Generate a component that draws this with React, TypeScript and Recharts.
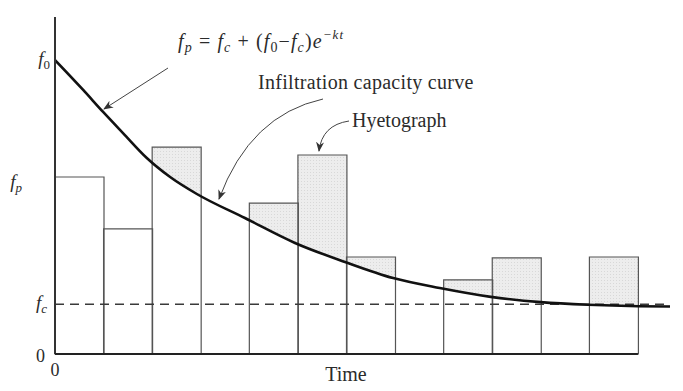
import React from "react";
import {
  Area,
  Bar,
  ComposedChart,
  Label,
  Line,
  ReferenceLine,
  XAxis,
  YAxis,
} from "recharts";

// hyetograph: one bar per time slot (rain intensity, same units as f)
const slots = ["1", "2", "3", "4", "5", "6", "7", "8", "9", "10", "11", "12"];
const rainfall = [6.04, 4.27, 7.06, 0, 5.15, 6.79, 3.31, 0, 2.53, 3.28, 0, 3.31];

// infiltration capacity curve (time in slots)
const curveTime = [0, 0.58, 0.99, 1.4, 1.89, 2.37, 2.92, 3.91, 4.94, 5.97, 6.96, 7.92, 8.97, 10.0, 10.97, 12.0, 12.66];
const curveRate = [10.03, 9.01, 8.26, 7.54, 6.69, 6.04, 5.46, 4.64, 3.79, 3.14, 2.59, 2.25, 1.95, 1.77, 1.68, 1.63, 1.62];

const fc = 1.7;
const yTicks = [0, fc, 5.85, 10.03];
const yTickSub = ["", "c", "p", "0"];

const barRows = slots.map((slot, i) => ({ slot, rain: rainfall[i] }));
const curveRows = curveTime.map((t, i) => ({ t, rate: curveRate[i] }));

const W = 683;
const H = 391;
const font = "'Liberation Serif', 'DejaVu Serif', serif";
const ink = "#2b2b2b";

function YTick(props: any) {
  const { y, payload } = props;
  const i = yTicks.indexOf(payload.value);
  if (i === 0) {
    return (
      <text x={45} y={y + 8} textAnchor="end" fontFamily={font} fontSize={18} fill={ink}>
        0
      </text>
    );
  }
  const right = i === 2 ? 22 : i === 1 ? 47 : 50;
  const subItalic = yTickSub[i] !== "0";
  return (
    <text x={right} y={y + 5} textAnchor="end" fontFamily={font} fontSize={19} fill={ink}>
      <tspan fontStyle="italic">f</tspan>
      <tspan fontSize={13} dy={4} fontStyle={subItalic ? "italic" : "normal"}>
        {yTickSub[i]}
      </tspan>
    </text>
  );
}

function XTick(props: any) {
  const { x } = props;
  return (
    <text x={x} y={376} textAnchor="middle" fontFamily={font} fontSize={18} fill={ink}>
      0
    </text>
  );
}

function TimeLabel() {
  return (
    <text x={346} y={381} textAnchor="middle" fontFamily={font} fontSize={20} fill={ink}>
      Time
    </text>
  );
}

export default function App() {
  return (
    <div style={{ position: "absolute", left: 0, top: 0, width: W, height: H, background: "#fff" }}>
      <ComposedChart
        width={W}
        height={H}
        data={barRows}
        margin={{ top: 17, right: 13, bottom: 0, left: 0 }}
        barCategoryGap={0}
        barGap={0}
      >
        <XAxis xAxisId="bars" dataKey="slot" hide padding={{ left: 0, right: 32 }} />
        <XAxis xAxisId="outline" dataKey="slot" hide padding={{ left: 0, right: 32 }} />
        <XAxis
          xAxisId="t"
          type="number"
          dataKey="t"
          domain={[0, 12.66]}
          allowDataOverflow
          ticks={[0]}
          tick={<XTick />}
          axisLine={false}
          tickLine={false}
          height={37}
        >
          <Label content={<TimeLabel />} />
        </XAxis>
        <YAxis
          domain={[0, 11.5]}
          ticks={yTicks}
          tick={<YTick />}
          axisLine={false}
          tickLine={false}
          width={55}
          interval={0}
        />
        <Bar
          xAxisId="bars"
          dataKey="rain"
          fill="url(#stipple)"
          stroke="none"
          isAnimationActive={false}
          zIndex={100}
        />
        <Area
          xAxisId="t"
          data={curveRows}
          dataKey="rate"
          type="monotone"
          fill="#ffffff"
          fillOpacity={1}
          stroke="none"
          isAnimationActive={false}
          zIndex={200}
        />
        <Bar
          xAxisId="outline"
          dataKey="rain"
          fill="none"
          stroke="#555"
          strokeWidth={1.2}
          isAnimationActive={false}
          zIndex={300}
        />
        <ReferenceLine
          xAxisId="t"
          y={fc}
          stroke="#3a3a3a"
          strokeWidth={1.4}
          strokeDasharray="9 6"
          zIndex={400}
        />
        <Line
          xAxisId="t"
          data={curveRows}
          dataKey="rate"
          type="monotone"
          stroke="#111"
          strokeWidth={2.6}
          dot={false}
          isAnimationActive={false}
          zIndex={500}
        />
        <ReferenceLine xAxisId="t" x={0} stroke="#333" strokeWidth={2} zIndex={600} />
        <ReferenceLine
          xAxisId="t"
          segment={[
            { x: 0, y: 0 },
            { x: 12, y: 0 },
          ]}
          stroke="#222"
          strokeWidth={2.2}
          zIndex={600}
        />
      </ComposedChart>
      <svg
        width={W}
        height={H}
        style={{ position: "absolute", left: 0, top: 0, pointerEvents: "none" }}
      >
        <defs>
          <pattern id="stipple" width={3} height={3} patternUnits="userSpaceOnUse">
            <rect width={3} height={3} fill="#ededed" />
            <rect x={1} y={1} width={1} height={1} fill="#d8d8d8" />
          </pattern>
          <marker
            id="arrow"
            markerWidth={10}
            markerHeight={8}
            refX={9}
            refY={4}
            orient="auto"
            markerUnits="userSpaceOnUse"
          >
            <path d="M0,0 L10,4 L0,8 L3,4 z" fill="#333" />
          </marker>
        </defs>
        <text x={178} y={48} fontFamily={font} fontSize={20} fill={ink} letterSpacing={1.1}>
          <tspan fontStyle="italic">f</tspan>
          <tspan fontStyle="italic" fontSize={14} dy={4}>p</tspan>
          <tspan dy={-4}> = </tspan>
          <tspan fontStyle="italic">f</tspan>
          <tspan fontStyle="italic" fontSize={14} dy={4}>c</tspan>
          <tspan dy={-4}> + (</tspan>
          <tspan fontStyle="italic">f</tspan>
          <tspan fontSize={14} dy={4}>0</tspan>
          <tspan dy={-4}>−</tspan>
          <tspan fontStyle="italic">f</tspan>
          <tspan fontStyle="italic" fontSize={14} dy={4}>c</tspan>
          <tspan dy={-4}>)</tspan>
          <tspan fontStyle="italic">e</tspan>
          <tspan fontStyle="italic" fontSize={13} dy={-9}>−kt</tspan>
        </text>
        <text x={258} y={89} fontFamily={font} fontSize={20} fill={ink} letterSpacing={0.3}>
          Infiltration capacity curve
        </text>
        <text x={352} y={127} fontFamily={font} fontSize={20} fill={ink}>
          Hyetograph
        </text>
        <path d="M168,68 L104,109" stroke="#444" strokeWidth={1} fill="none" markerEnd="url(#arrow)" />
        <path d="M323,99 Q250,115 219,199" stroke="#444" strokeWidth={1} fill="none" markerEnd="url(#arrow)" />
        <path d="M349,121 Q322,125 319,151" stroke="#444" strokeWidth={1} fill="none" markerEnd="url(#arrow)" />
      </svg>
    </div>
  );
}
